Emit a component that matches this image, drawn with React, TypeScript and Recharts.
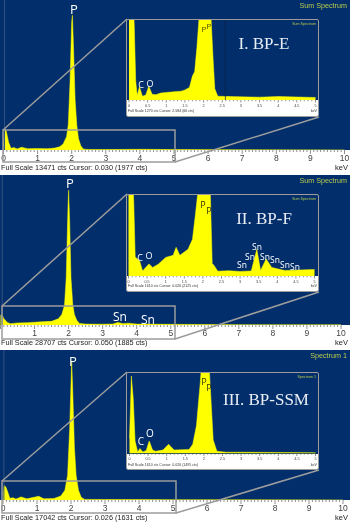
import { Area, AreaChart, ReferenceLine, XAxis, YAxis } from "recharts";

// main spectra, keV / counts
const mainKevI = [0, 0.03, 0.08, 0.15, 0.22, 0.3, 0.4, 0.53, 0.7, 1, 1.3, 1.5, 1.65, 1.75, 1.85, 1.9, 1.95, 2, 2.02, 2.05, 2.1, 2.15, 2.2, 2.27, 2.35, 2.5, 3, 4, 5, 7, 10];
const mainCountsI = [400, 1977, 1700, 700, 150, 220, 100, 250, 120, 130, 120, 170, 300, 550, 1200, 2300, 6000, 11500, 12100, 9500, 4500, 2200, 1000, 350, 70, 50, 40, 60, 40, 20, 10];

const mainKevII = [0, 0.05, 0.1, 0.2, 0.3, 0.5, 0.8, 1.2, 1.5, 1.7, 1.8, 1.88, 1.93, 1.98, 2, 2.03, 2.07, 2.12, 2.17, 2.24, 2.32, 2.5, 3, 3.3, 3.45, 3.6, 3.75, 4, 5, 7, 10];
const mainCountsII = [1885, 1885, 1200, 500, 250, 400, 450, 600, 700, 1200, 2000, 3800, 9000, 22000, 25800, 20000, 9000, 4000, 2000, 900, 300, 170, 150, 170, 500, 250, 350, 170, 120, 60, 30];

const mainKevIII = [0, 0.03, 0.08, 0.14, 0.2, 0.3, 0.38, 0.53, 0.7, 1.05, 1.2, 1.5, 1.7, 1.82, 1.9, 1.96, 2.02, 2.05, 2.1, 2.15, 2.22, 2.3, 2.4, 3, 4, 5, 7, 10];
const mainCountsIII = [600, 1631, 1500, 900, 200, 250, 100, 350, 130, 420, 140, 170, 450, 1100, 2800, 8000, 15800, 12500, 6000, 2800, 1100, 300, 70, 50, 50, 40, 20, 10];

// enlarged 0-5 keV insets
const insetKevI = [0, 0.1, 0.14, 0.18, 0.22, 0.28, 0.36, 0.45, 0.53, 0.62, 0.72, 0.85, 1, 1.2, 1.4, 1.5, 1.62, 1.7, 1.76, 1.82, 1.88, 2.0, 2.15, 2.2, 2.25, 2.3, 2.38, 3, 3.5, 4, 5];
const insetCountsI = [2000, 1700, 1200, 300, 70, 210, 60, 80, 220, 90, 85, 110, 120, 130, 140, 160, 200, 380, 450, 830, 1320, 1900, 1900, 1300, 700, 180, 60, 50, 45, 55, 40];

const insetKevII = [0, 0.1, 0.14, 0.18, 0.3, 0.38, 0.45, 0.55, 0.65, 0.8, 1, 1.2, 1.28, 1.38, 1.6, 1.72, 1.8, 1.87, 2, 2.2, 2.25, 2.3, 2.4, 2.7, 3, 3.3, 3.45, 3.55, 3.7, 3.85, 4.2, 5];
const insetCountsII = [2600, 2200, 1500, 380, 300, 100, 160, 240, 170, 235, 370, 410, 570, 410, 530, 730, 1230, 1700, 2500, 1650, 250, 210, 95, 105, 90, 100, 530, 110, 340, 170, 110, 130];

const insetKevIII = [0, 0.05, 0.1, 0.15, 0.22, 0.28, 0.36, 0.45, 0.53, 0.62, 0.7, 0.9, 1.05, 1.2, 1.6, 1.7, 1.8, 1.9, 1.93, 2.05, 2.15, 2.25, 2.35, 2.6, 3, 4, 5];
const insetCountsIII = [300, 1550, 1100, 250, 30, 100, 30, 60, 250, 70, 45, 70, 185, 70, 80, 185, 560, 1400, 1700, 2500, 1620, 270, 45, 25, 25, 20, 15];

const mainLabels = ["0", "1", "2", "3", "4", "5", "6", "7", "8", "9", "10"];
const insetLabels = ["0", "0.5", "1", "1.5", "2", "2.5", "3", "3.5", "4", "4.5", "5"];
const mainTicks = Array.from({ length: 101 }, (_, i) => i / 10);
const insetTicks = Array.from({ length: 51 }, (_, i) => i / 10);

const BLUE = "#022f6b";
const YELLOW = "#ffff00";
const GRAY = "#9c9c9c";
const TITLE = "#b9cb4a";
const SANS = "'Liberation Sans', Arial, sans-serif";
const LABEL = "'Open Sans', sans-serif";

const rows = (kev: number[], counts: number[]) => kev.map((k, i) => ({ keV: k, counts: counts[i] }));

function rulerTick(props: any, labels: string[], step: number, fontSize: number, lenMajor: number, hideZero: boolean) {
  const { x, y, payload } = props;
  const v = payload.value as number;
  const isLabel = Math.abs(v / step - Math.round(v / step)) < 1e-6;
  const text = isLabel ? labels[Math.round(v / step)] : null;
  const top = y as number;
  return (
    <g key={v}>
      <line x1={x} x2={x} y1={top} y2={top + (isLabel ? lenMajor : lenMajor / 2)} stroke="#444" strokeWidth={0.6} />
      {text && !(hideZero && v === 0) ? (
        <text x={x} y={top + fontSize + (lenMajor > 3 ? 2.5 : 3)} textAnchor="middle" fontSize={fontSize} fontFamily={SANS} fill="#444">
          {text}
        </text>
      ) : null}
    </g>
  );
}

function MainChart({ data, scale, left, right, height, strip, cursor, hideZero }: any) {
  return (
    <AreaChart width={350} height={height} data={data} margin={{ top: 0, right, bottom: 0, left }} style={{ position: "absolute", left: 0, top: 0 }}>
      <XAxis
        type="number"
        dataKey="keV"
        domain={[0, 10]}
        ticks={mainTicks}
        interval={0}
        height={strip}
        axisLine={false}
        tickLine={false}
        tickSize={0}
        tickMargin={0}
        tick={(p: any) => rulerTick(p, mainLabels, 1, 8.5, 4, hideZero)}
      />
      <YAxis hide domain={[0, scale]} allowDataOverflow />
      <Area type="linear" dataKey="counts" fill={YELLOW} fillOpacity={1} stroke={YELLOW} strokeWidth={0.5} isAnimationActive={false} dot={false} activeDot={false} />
      <ReferenceLine x={cursor} stroke="#34537f" strokeWidth={1} />
    </AreaChart>
  );
}

function InsetChart({ data, scale, left, right, height, strip, cursor }: any) {
  return (
    <AreaChart width={190} height={height} data={data} margin={{ top: 0, right, bottom: 0, left }} style={{ position: "absolute", left: 0, top: 0 }}>
      <XAxis
        type="number"
        dataKey="keV"
        domain={[0, 5]}
        ticks={insetTicks}
        interval={0}
        height={strip}
        axisLine={false}
        tickLine={false}
        tickSize={0}
        tickMargin={0}
        tick={(p: any) => rulerTick(p, insetLabels, 0.5, 3.8, 2.5, false)}
      />
      <YAxis hide domain={[0, scale]} allowDataOverflow />
      <Area type="linear" dataKey="counts" fill={YELLOW} fillOpacity={1} stroke={YELLOW} strokeWidth={0.5} isAnimationActive={false} dot={false} activeDot={false} />
      {cursor ? <ReferenceLine x={cursor} stroke="#0a1f40" strokeWidth={0.7} /> : null}
    </AreaChart>
  );
}

function Panel({ p }: { p: any }) {
  return (
    <div style={{ position: "absolute", left: 0, top: p.top, width: 350, height: p.height, overflow: "hidden" }}>
      <div style={{ position: "absolute", left: 0, top: 0, width: 350, height: p.plot, background: BLUE }} />
      <div style={{ position: "absolute", left: 0, top: p.plot, width: 350, height: p.height - p.plot, background: "#fff" }} />
      <MainChart data={p.main} scale={p.scale} left={p.x0} right={350 - p.x10} height={p.plot + p.strip} strip={p.strip} cursor={p.mainCursor} hideZero={p.hideZero} />
      <div style={{ position: "absolute", left: 1, top: p.plot + p.strip, fontFamily: SANS, fontSize: 7.3, whiteSpace: "nowrap", color: "#222", lineHeight: "10px" }}>{p.footer}</div>
      <div style={{ position: "absolute", right: 2, top: p.plot + p.strip, fontFamily: SANS, fontSize: 7.5, color: "#222", lineHeight: "10px" }}>keV</div>
      <div style={{ position: "absolute", right: 3, top: p.titleTop, fontFamily: SANS, fontSize: 7.2, color: TITLE, whiteSpace: "nowrap", lineHeight: "10px" }}>{p.title}</div>
      <svg width={350} height={p.height} style={{ position: "absolute", left: 0, top: 0 }}>
        <text x={p.peakX} y={p.peakY} textAnchor="middle" fontFamily={LABEL} fontSize={13} fill="#fff">P</text>
        {(p.mainLabels || []).map((l: any) => (
          <text key={l.x} x={l.x} y={l.y} textAnchor="middle" fontFamily={LABEL} fontSize={12} fill="#fff">{l.t}</text>
        ))}
        <rect x={p.box[0]} y={p.box[1]} width={p.box[2]} height={p.box[3]} fill="none" stroke={GRAY} strokeWidth={1.5} />
        <line x1={p.box[0]} y1={p.box[1]} x2={p.inset.x + 1} y2={p.inset.y} stroke={GRAY} strokeWidth={1.5} />
        <line x1={p.box[0] + p.box[2]} y1={p.box[1] + p.box[3]} x2={p.inset.x + p.inset.w} y2={p.inset.y + p.inset.h} stroke={GRAY} strokeWidth={1.5} />
      </svg>
      <div style={{ position: "absolute", left: p.inset.x, top: p.inset.y, width: p.inset.w, height: p.inset.h, background: BLUE, border: `1.5px solid ${GRAY}`, borderRadius: 2, boxSizing: "border-box", overflow: "hidden" }}>
        <div style={{ position: "absolute", left: 0, top: p.inset.plot, width: 193, height: 40, background: "#fff" }} />
        <InsetChart data={p.insetData} scale={p.insetScale} left={p.inset.left} right={p.inset.right} height={p.inset.plot + p.inset.strip} strip={p.inset.strip} cursor={p.insetCursor} />
        <div style={{ position: "absolute", left: 1, top: p.inset.plot + p.inset.strip - 1, fontFamily: SANS, fontSize: 3.6, whiteSpace: "nowrap", color: "#333", lineHeight: "5px" }}>{p.insetFooter}</div>
        <div style={{ position: "absolute", right: 1, top: p.inset.plot + p.inset.strip - 1, fontFamily: SANS, fontSize: 3.6, color: "#333", lineHeight: "5px" }}>keV</div>
        <div style={{ position: "absolute", right: 2, top: 2, fontFamily: SANS, fontSize: 3.6, color: TITLE, whiteSpace: "nowrap", lineHeight: "5px" }}>{p.title}</div>
      </div>
      <svg width={350} height={p.height} style={{ position: "absolute", left: 0, top: 0 }}>
        <text x={p.name.x} y={p.name.y} textAnchor="middle" fontFamily="'Liberation Serif', serif" fontSize={p.name.s} fill="#e8edf4">{p.name.t}</text>
        {p.labels.map((l: any, i: number) => (
          <text key={i} x={l.x} y={l.y} textAnchor="middle" fontFamily={LABEL} fontSize={l.s} fill={l.c || "#fff"}>{l.t}</text>
        ))}
      </svg>
    </div>
  );
}

const panels = [
  {
    top: 0, height: 175, plot: 150, strip: 13, scale: 13471, x0: 3.5, x10: 344.5,
    main: rows(mainKevI, mainCountsI), mainCursor: 0.03, hideZero: false,
    footer: "Full Scale 13471 cts Cursor: 0.030  (1977 cts)", title: "Sum Spectrum", titleTop: 1,
    peakX: 74, peakY: 14, box: [3, 130, 172, 32],
    inset: { x: 126, y: 19, w: 193, h: 98, plot: 80, strip: 10, left: 2, right: 1.5 },
    insetData: rows(insetKevI, insetCountsI), insetScale: 1270, insetCursor: 2.584,
    insetFooter: "Full Scale 1270 cts Cursor: 2.584  (66 cts)",
    name: { x: 264, y: 49, t: "I. BP-E", s: 17 },
    labels: [
      { x: 141, y: 88, t: "C", s: 9 }, { x: 150, y: 87, t: "O", s: 9 },
      { x: 204, y: 32, t: "P", s: 8, c: "#4a4a10" }, { x: 209, y: 29, t: "P", s: 8, c: "#4a4a10" },
    ],
  },
  {
    top: 175, height: 175, plot: 150, strip: 13, scale: 28707, x0: 0.5, x10: 341,
    main: rows(mainKevII, mainCountsII), mainCursor: 0.05, hideZero: true,
    footer: "Full Scale 28707 cts Cursor: 0.050  (1885 cts)", title: "Sum Spectrum", titleTop: 1,
    peakX: 70, peakY: 13, box: [2, 131, 173, 33],
    mainLabels: [{ x: 120, y: 146, t: "Sn" }, { x: 148, y: 149, t: "Sn" }],
    inset: { x: 126, y: 19, w: 193, h: 98, plot: 81, strip: 9, left: 1.5, right: 2.5 },
    insetData: rows(insetKevII, insetCountsII), insetScale: 1610, insetCursor: 0,
    insetFooter: "Full Scale 1610 cts Cursor: 0.026  (2125 cts)",
    name: { x: 264, y: 49, t: "II. BP-F", s: 17 },
    labels: [
      { x: 140, y: 86, t: "C", s: 9 }, { x: 149, y: 84, t: "O", s: 9 },
      { x: 203, y: 33, t: "P", s: 9, c: "#333310" }, { x: 209, y: 39, t: "P", s: 9, c: "#333310" },
      { x: 242, y: 93, t: "Sn", s: 8.5 }, { x: 250, y: 85, t: "Sn", s: 8.5 }, { x: 257, y: 75, t: "Sn", s: 8.5 },
      { x: 265, y: 85, t: "Sn", s: 8.5 }, { x: 275, y: 88, t: "Sn", s: 8.5 }, { x: 285, y: 93, t: "Sn", s: 8.5 }, { x: 295, y: 95, t: "Sn", s: 8.5 },
    ],
  },
  {
    top: 350, height: 175, plot: 150, strip: 13, scale: 17042, x0: 3, x10: 343,
    main: rows(mainKevIII, mainCountsIII), mainCursor: 0.026, hideZero: false,
    footer: "Full Scale 17042 cts Cursor: 0.026  (1631 cts)", title: "Spectrum 1", titleTop: 1,
    peakX: 73, peakY: 16, box: [2, 131, 174, 32],
    inset: { x: 126, y: 22, w: 193, h: 98, plot: 80.5, strip: 10, left: 2.5, right: 1.5 },
    insetData: rows(insetKevIII, insetCountsIII), insetScale: 1610, insetCursor: 0,
    insetFooter: "Full Scale 1610 cts Cursor: 0.026  (1495 cts)",
    name: { x: 266, y: 55, t: "III. BP-SSM", s: 17 },
    labels: [
      { x: 141, y: 95, t: "C", s: 10 }, { x: 150, y: 87, t: "O", s: 10 },
      { x: 204, y: 35, t: "P", s: 9, c: "#333310" }, { x: 209, y: 41, t: "P", s: 9, c: "#333310" },
    ],
  },
];

export default function App() {
  return (
    <div style={{ position: "absolute", left: 0, top: 0, width: 350, height: 525, overflow: "hidden", background: "#fff", filter: "blur(0.35px)" }}>
      {panels.map((p) => (
        <Panel key={p.top} p={p} />
      ))}
    </div>
  );
}
